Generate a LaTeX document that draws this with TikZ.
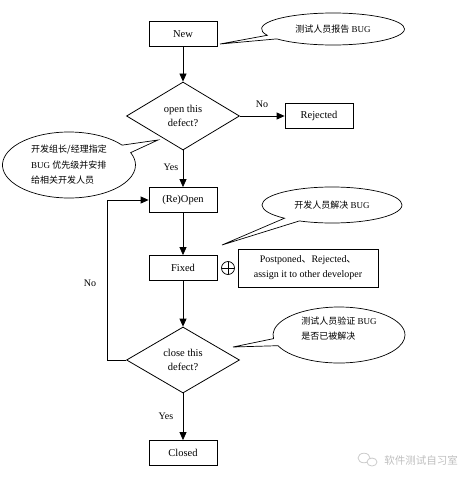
\documentclass[tikz,border=0pt]{standalone}
\usepackage{fontspec}
\setmainfont{Liberation Serif}
\newfontfamily\cjk{Noto Sans CJK SC}
\usetikzlibrary{shapes.geometric,shapes.callouts,arrows.meta}
\tikzset{
  stepbox/.style={draw, line width=0.8pt, minimum width=68pt, minimum height=25pt, inner sep=0pt, font=\fontsize{10.5}{13}\selectfont},
  decision/.style={draw, diamond, line width=0.8pt, minimum width=113pt, minimum height=68pt, inner sep=0pt, align=center, font=\fontsize{10.5}{14}\selectfont},
  bubble/.style={draw, ellipse callout, line width=0.7pt, inner sep=0pt, align=left, font=\fontsize{9}{15.5}\selectfont},
  flow/.style={line width=0.8pt, -{Triangle[length=8pt,width=7pt]}},
  lbl/.style={font=\fontsize{10}{12}\selectfont, inner sep=0pt}
}
\begin{document}
\begin{tikzpicture}[x=1pt,y=-1pt]
\fill[white] (0,0) rectangle (474,482);
\useasboundingbox (0,0) rectangle (474,482);

\node[stepbox] (new) at (183,34) {New};
\node[decision] (d1) at (183,116) {open this\\defect?};
\node[stepbox] (rej) at (319,116) {Rejected};
\node[stepbox] (reopen) at (183,200) {(Re)Open};
\node[stepbox] (fixed) at (183,268) {Fixed};
\node[draw, circle, line width=0.7pt, minimum size=13pt, inner sep=0pt,
  path picture={\draw[line width=0.7pt] (path picture bounding box.north) -- (path picture bounding box.south)
     (path picture bounding box.west) -- (path picture bounding box.east);}] (plus) at (228,268) {};
\node[draw, line width=0.8pt, minimum width=140pt, minimum height=38pt, inner sep=0pt, align=left,
  font=\fontsize{10}{15}\selectfont] (post) at (308,268)
  {\hspace*{6pt}Postponed{\cjk 、}Rejected{\cjk 、}\\assign it to other developer};
\node[decision, minimum height=66pt] (d2) at (183,360) {close this\\defect?};
\node[stepbox] (closed) at (183,453) {Closed};

\coordinate (p1) at (220,44);
\coordinate (p2) at (158,140);
\coordinate (p3) at (222,245);
\coordinate (p4) at (233,347);

\node[bubble, minimum width=143pt, minimum height=32pt, callout absolute pointer={(p1)}] (c1) at (333,29)
  {{\cjk 测试人员报告} BUG};
\node[bubble, minimum width=133pt, minimum height=66pt, callout absolute pointer={(p2)}] (c2) at (69,165)
  {{\cjk 开发组长/经理指定}\\BUG {\cjk 优先级并安排}\\{\cjk 给相关开发人员}};
\node[bubble, minimum width=140pt, minimum height=36pt, callout absolute pointer={(p3)}] (c3) at (332,205)
  {{\cjk 开发人员解决} BUG};
\node[bubble, minimum width=132pt, minimum height=56pt, callout absolute pointer={(p4)}] (c4) at (339,335)
  {{\cjk 测试人员验证} BUG\\{\cjk 是否已被解决}\\[-2pt]\mbox{}};

\draw[flow] (new) -- (d1);
\draw[flow] (d1) -- (rej);
\draw[flow] (d1) -- (reopen);
\draw[flow] (reopen) -- (fixed);
\draw[flow] (fixed) -- (d2);
\draw[flow] (d2.west) -- (107,360) |- (reopen.west);
\draw[flow] (d2) -- (closed);

\node[lbl] (no1) at (262,104) {No};
\node[lbl] (yes1) at (171,167) {Yes};
\node[lbl] (no2) at (90,283) {No};
\node[lbl] (yes2) at (166,416) {Yes};

% watermark
\begin{scope}[gray!40, line width=0.8pt]
\draw (364,458) ellipse (6pt and 4.8pt);
\draw[fill=white] (372,462) ellipse (5pt and 4pt);
\end{scope}
\node[font=\cjk\fontsize{10.5}{12}\selectfont, text=gray!50, inner sep=0pt] (wm) at (421,460) {软件测试自习室};
\end{tikzpicture}
\end{document}
